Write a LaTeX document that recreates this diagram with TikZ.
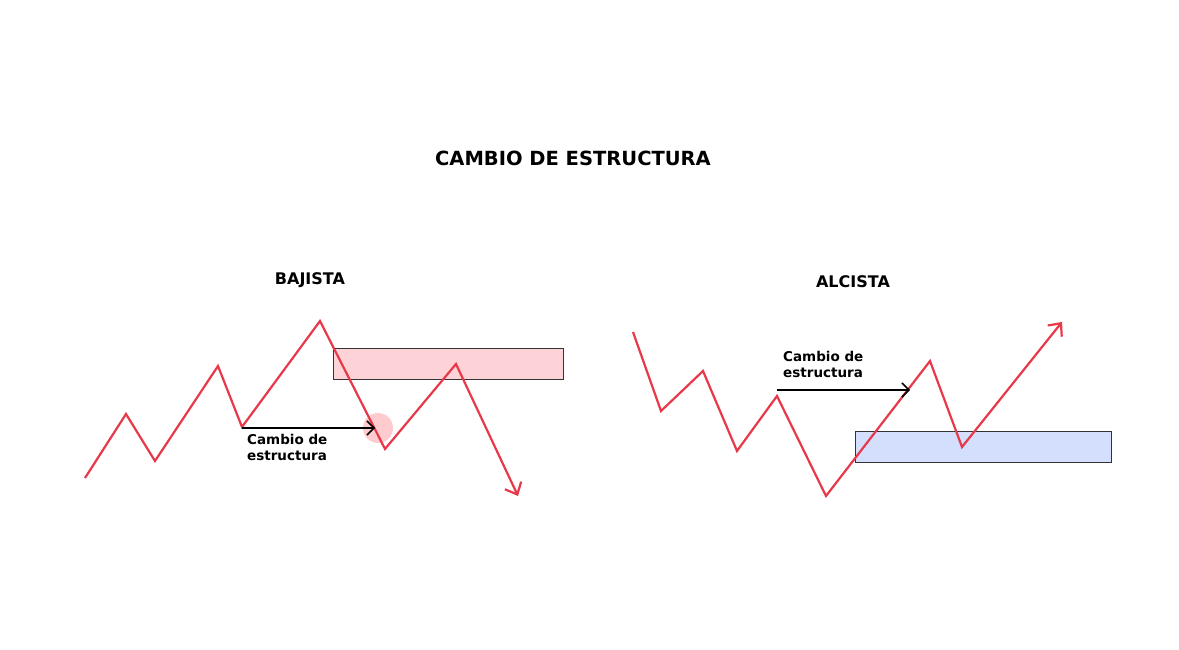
\documentclass[tikz,border=0pt]{standalone}
\usepackage{fontspec}
\setmainfont{DejaVu Sans}
\usetikzlibrary{arrows.meta}
\definecolor{lred}{HTML}{E8394A}
\definecolor{pinkf}{HTML}{FDD3D8}
\definecolor{bluef}{HTML}{D3DFFD}
\tikzset{trend/.style={draw=lred,line width=2.2pt,line join=miter,-{Straight Barb[length=10pt,width=18pt,line width=2.2pt]}},
zone/.style={draw=black!80,line width=0.7pt},
lbl/.style={font=\bfseries\fontsize{16}{19}\selectfont},
small/.style={font=\bfseries\fontsize{13.5}{16}\selectfont,align=left,inner sep=0pt,anchor=north west},
brk/.style={draw=black,line width=1.5pt,-{Straight Barb[length=7pt,width=14pt,line width=1.5pt]}}}
\begin{document}
\begin{tikzpicture}[x=1pt,y=-1pt]
\useasboundingbox[fill=white] (0,0) rectangle (1179,650);
\node[font=\bfseries\fontsize{19.5}{23}\selectfont] (title) at (573,158) {CAMBIO DE ESTRUCTURA};
\node[lbl] (baj) at (310,280) {BAJISTA};
\node[lbl] (alc) at (853,282) {ALCISTA};
\path[zone,fill=pinkf] (333,348) rectangle (563,379);
\path[zone,fill=bluef] (855,431) rectangle (1111,462);
\fill[pinkf!80!red!60] (378,428) circle (15);
\draw[trend] (85,478) -- (126,414) -- (155,461) -- (218,366) -- (242,427) -- (320,321) -- (385,449) -- (456,364) -- (518,496);
\draw[trend] (633,332) -- (661,411) -- (703,371) -- (737,451) -- (777,396) -- (826,496) -- (930,361) -- (962,447) -- (1062,322);
\coordinate (a1) at (242,428); \coordinate (a2) at (375,428);
\draw[brk] (a1) -- (a2);
\coordinate (b1) at (777,390); \coordinate (b2) at (910,390);
\draw[brk] (b1) -- (b2);
\node[small] (t1) at (247,434) {Cambio de\\estructura};
\node[small] (t2) at (783,351) {Cambio de\\estructura};
\end{tikzpicture}
\end{document}
